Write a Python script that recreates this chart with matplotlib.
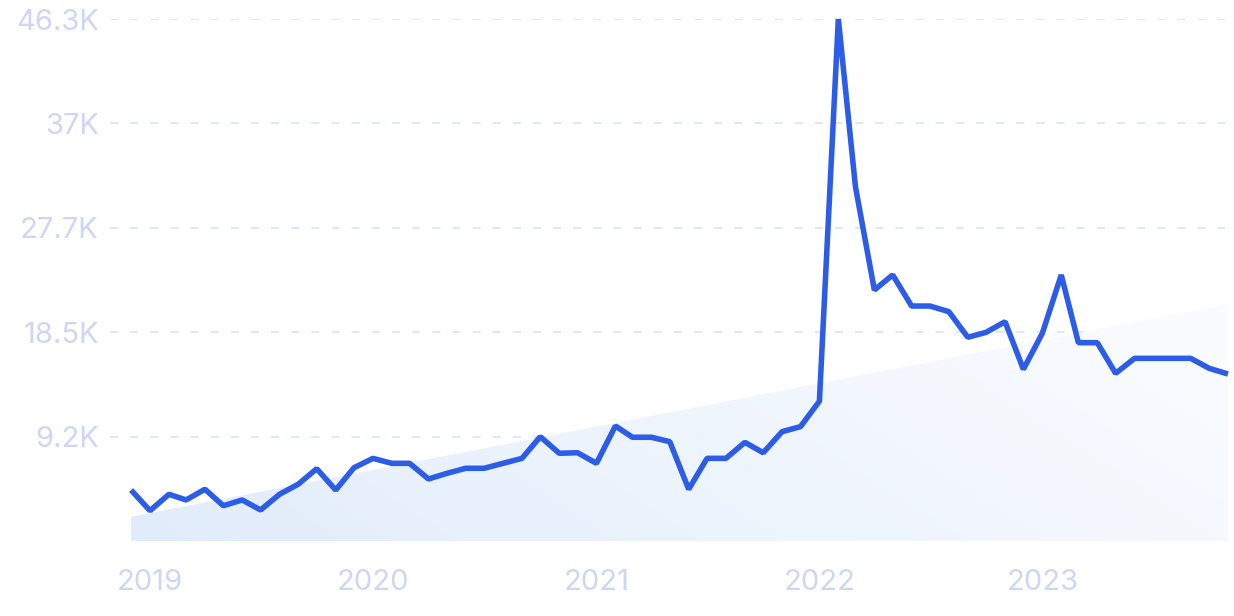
import matplotlib
matplotlib.use("Agg")
import matplotlib.pyplot as plt
import matplotlib.dates as mdates
from matplotlib.colors import LinearSegmentedColormap
import numpy as np
import pandas as pd

# monthly values, Dec 2018 .. Nov 2023
dates = pd.date_range("2018-12-01", periods=60, freq="MS")
values = [4520, 2690, 4140, 3640, 4590, 3130, 3640, 2750, 4140, 5050,
          6410, 4520, 6500, 7330, 6890, 6890, 5500, 6000, 6450, 6450,
          6890, 7330, 9250, 7780, 7830, 6890, 10200, 9200, 9200, 8810,
          4590, 7330, 7330, 8750, 7830, 9700, 10140, 12400, 46300, 31430,
          22260, 23600, 20840, 20840, 20340, 18070, 18510, 19450, 15230, 18420,
          23600, 17590, 17590, 14870, 16200, 16200, 16200, 16200, 15320, 14810]

# linear trend, first and last month
trend_vals = [2150, 21000]

y_ticks = [9260, 18520, 27780, 37040, 46300]
y_labels = ["9.2K", "18.5K", "27.7K", "37K", "46.3K"]
x_ticks = ["2019-01-01", "2020-01-01", "2021-01-01", "2022-01-01", "2023-01-01"]
x_labels = ["2019", "2020", "2021", "2022", "2023"]

plt.rcParams["font.family"] = ["Inter", "DejaVu Sans"]
label_col = "#cdd7f3"
line_col = "#2d5de6"

fig = plt.figure(figsize=(12.34, 6.16), dpi=100)
ax = fig.add_axes([110 / 1234, 1 - 541 / 616, 1118 / 1234, 522 / 616])

xn = mdates.date2num(dates)
x0 = mdates.date2num(pd.Timestamp("2019-01-01")) - 65.5
ax.set_xlim(x0, xn[-1])
ax.set_ylim(0, 46300)

# trend area with a soft gradient
trend = np.interp(xn, [xn[0], xn[-1]], trend_vals)
poly = ax.fill_between(xn, 0, trend, color="none", lw=0)
cmap = LinearSegmentedColormap.from_list("g", ["#e1ecfb", "#eff5fd", "#fbfcff"])
gx, gy = np.meshgrid(np.linspace(0, 1, 300), np.linspace(0, 1, 100))
grad = 0.75 * gx + 0.25 * (1 - gy)
im = ax.imshow(grad, cmap=cmap, aspect="auto", origin="upper",
               extent=[xn[0], xn[-1], 0, max(trend_vals)], zorder=1)
im.set_clip_path(poly.get_paths()[0], transform=ax.transData)

# dashed gridlines
for yt in y_ticks:
    ax.plot([x0, xn[-1] - 5], [yt, yt], color="#dfe7f9", lw=1.45,
            dashes=(4, 6), zorder=0)

ax.plot(xn, values, color=line_col, lw=4.0, solid_joinstyle="bevel",
        solid_capstyle="butt", zorder=3, clip_on=False)

ax.set_yticks(y_ticks)
ax.set_yticklabels(y_labels)
ax.set_xticks(mdates.date2num(pd.to_datetime(x_ticks)))
ax.set_xticklabels(x_labels)
ax.tick_params(axis="y", length=0, pad=8, labelsize=21, labelcolor=label_col)
ax.tick_params(axis="x", length=0, pad=20, labelsize=21, labelcolor=label_col)
for s in ax.spines.values():
    s.set_visible(False)

fig.savefig("out.png", dpi=100)
